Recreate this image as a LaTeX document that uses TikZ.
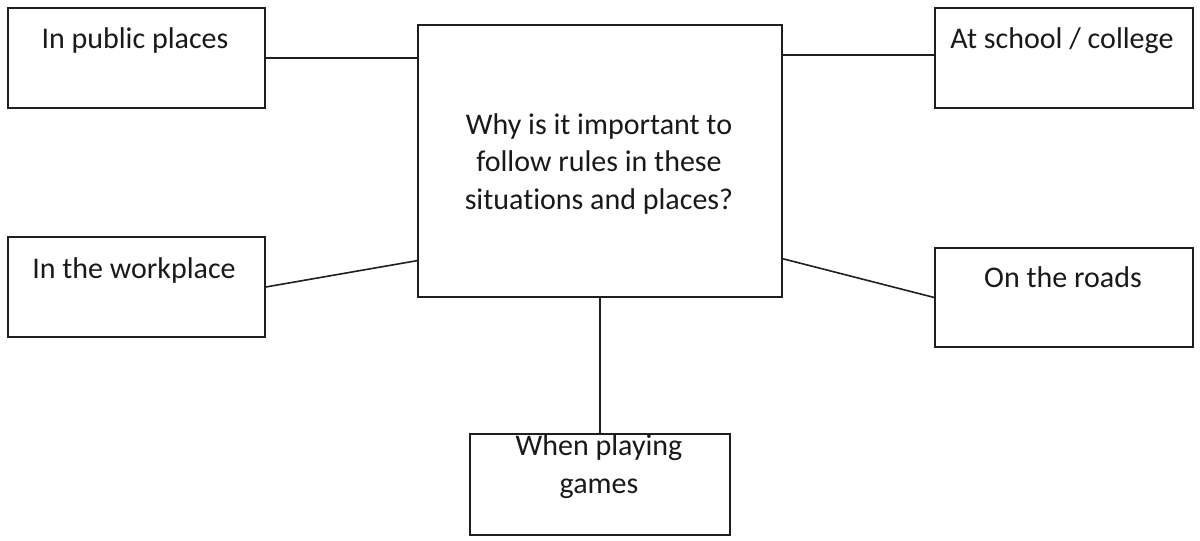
\documentclass[tikz,border=0pt]{standalone}
\usepackage{fontspec}
\setmainfont{Carlito}[Ligatures=NoCommon]
\usetikzlibrary{calc}
\begin{document}
\begin{tikzpicture}[x=1pt,y=-1pt,
  box/.style={draw=black!88,line width=1.6pt,inner sep=0pt,rectangle},
  txt/.style={font=\fontsize{30}{37.5}\selectfont,anchor=base,inner sep=0pt,align=center,text=black!90},
  conn/.style={draw=black!88,line width=1.6pt}]
\useasboundingbox (0,0) rectangle (1200,541);
\node[box,minimum width=257pt,minimum height=100pt] (pub) at (136.5,58) {};
\node[box,minimum width=363.5pt,minimum height=272pt] (ctr) at (600,161) {};
\node[box,minimum width=258pt,minimum height=100pt] (sch) at (1064,58) {};
\node[box,minimum width=257pt,minimum height=100pt] (wp) at (136.5,287) {};
\node[box,minimum width=258pt,minimum height=99pt] (road) at (1064,297.5) {};
\node[box,minimum width=260pt,minimum height=101pt] (games) at (600,484.5) {};
\node[txt] (tpub) at (135,48) {In public places};
\node[txt] (tsch) at (1062,48) {At school / college};
\node[txt] (twp) at (134,278) {In the workplace};
\node[txt] (troad) at (1063,287) {On the roads};
\node[txt] (tgames) at (599,493) {When playing\\games};
\node[txt] (tctr) at (599,209) {Why is it important to\\follow rules in these\\situations and places?};
\coordinate (cw) at ($(ctr.south west)!0.136!(ctr.north west)$);
\coordinate (ce) at ($(ctr.south east)!0.143!(ctr.north east)$);
\draw[conn] (pub.east) -- (pub.east -| ctr.west);
\draw[conn] (sch.west |- 0,55) -- (ctr.east |- 0,55);
\draw[conn] (wp.east) -- (cw);
\draw[conn] (ce) -- (road.west);
\draw[conn] (ctr.south) -- (games.north);
\end{tikzpicture}
\end{document}
